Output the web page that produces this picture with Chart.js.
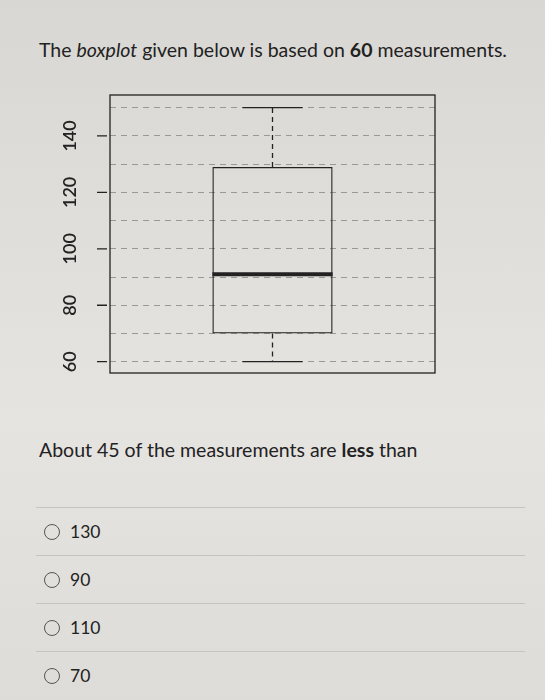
<!DOCTYPE html>
<html>
<head>
<meta charset="utf-8">
<script src="https://cdn.jsdelivr.net/npm/chart.js@4"></script>
<style>
  body { margin:0; width:545px; height:700px; background:linear-gradient(#d9d7d3,#e6e4e1 60%,#dedcd8); font-family:Lato, "Open Sans", sans-serif; color:#222; position:relative; overflow:hidden; }
  .t { position:absolute; left:39px; font-size:19.5px; white-space:nowrap; }
  .chartbox { position:absolute; left:0; top:85px; width:545px; height:300px; }
  .sep { position:absolute; left:36px; right:20px; height:1px; background:#c6c4c0; }
  .opt { position:absolute; left:44px; font-size:17.5px; }
  .opt span { display:inline-block; width:14px; height:14px; border:1.3px solid #555; border-radius:50%; vertical-align:-2px; margin-right:10px; }
</style>
</head>
<body>
<div class="t" style="top:38px">The <i>boxplot</i> given below is based on <b>60</b> measurements.</div>
<div class="chartbox"><canvas id="box"></canvas></div>
<div class="t" style="top:438px">About 45 of the measurements are <b>less</b> than</div>
<div class="sep" style="top:507px"></div>
<div class="opt" style="top:521px"><span></span>130</div>
<div class="sep" style="top:555px"></div>
<div class="opt" style="top:569px"><span></span>90</div>
<div class="sep" style="top:603px"></div>
<div class="opt" style="top:617px"><span></span>110</div>
<div class="sep" style="top:651px"></div>
<div class="opt" style="top:665px"><span></span>70</div>
<script>
var labels = ['x'];
var boxMin = [60];
var boxQ1 = [70];
var boxMedian = [91];
var boxQ3 = [129];
var boxMax = [150];
var gridValues = [60, 70, 80, 90, 100, 110, 120, 130, 140, 150];
var tickLabels = [60, 80, 100, 120, 140];

// whiskers, median, frame and rotated axis labels, all placed through the scales
var boxExtras = {
  id: 'boxExtras',
  afterDatasetsDraw: function(chart) {
    var ctx = chart.ctx, y = chart.scales.y, a = chart.chartArea;
    var bar = chart.getDatasetMeta(0).data[0];
    var cx = bar.x, half = bar.width / 2, cap = half / 2;
    ctx.save();
    ctx.strokeStyle = '#222';
    ctx.lineWidth = 1.3;
    ctx.setLineDash([5, 4]);
    ctx.beginPath();
    ctx.moveTo(cx, y.getPixelForValue(boxQ3[0])); ctx.lineTo(cx, y.getPixelForValue(boxMax[0]));
    ctx.moveTo(cx, y.getPixelForValue(boxQ1[0])); ctx.lineTo(cx, y.getPixelForValue(boxMin[0]));
    ctx.stroke();
    ctx.setLineDash([]);
    ctx.beginPath();
    [boxMax[0], boxMin[0]].forEach(function(v) {
      ctx.moveTo(cx - cap, y.getPixelForValue(v)); ctx.lineTo(cx + cap, y.getPixelForValue(v));
    });
    ctx.stroke();
    ctx.lineWidth = 4;
    ctx.beginPath();
    ctx.moveTo(cx - half, y.getPixelForValue(boxMedian[0])); ctx.lineTo(cx + half, y.getPixelForValue(boxMedian[0]));
    ctx.stroke();
    ctx.lineWidth = 1.3;
    ctx.strokeRect(a.left, a.top, a.right - a.left, a.bottom - a.top);
    ctx.fillStyle = '#222';
    ctx.font = '600 18px Lato, sans-serif';
    ctx.textAlign = 'center';
    ctx.textBaseline = 'middle';
    ctx.beginPath();
    tickLabels.forEach(function(v) {
      var py = y.getPixelForValue(v);
      ctx.moveTo(a.left - 13, py); ctx.lineTo(a.left - 3, py);
      ctx.save();
      ctx.translate(a.left - 40, py);
      ctx.rotate(-Math.PI / 2);
      ctx.fillText(String(v), 0, 0);
      ctx.restore();
    });
    ctx.stroke();
    ctx.restore();
  }
};

new Chart(document.getElementById('box'), {
  type: 'bar',
  data: {
    labels: labels,
    datasets: [{
      data: labels.map(function(l, i) { return [boxQ1[i], boxQ3[i]]; }),
      backgroundColor: 'rgba(0,0,0,0)',
      borderColor: '#222',
      borderWidth: 1.3,
      borderSkipped: false,
      categoryPercentage: 0.37,
      barPercentage: 1
    }]
  },
  options: {
    responsive: true,
    maintainAspectRatio: false,
    animation: false,
    layout: { padding: { left: 110, right: 110, top: 10, bottom: 12 } },
    plugins: { legend: { display: false }, tooltip: { enabled: false } },
    scales: {
      x: { display: false },
      y: {
        min: 56, max: 154.5,
        afterBuildTicks: function(s) { s.ticks = gridValues.map(function(v) { return { value: v }; }); },
        ticks: { display: false },
        border: { display: false, dash: [6, 5] },
        grid: { color: '#9a9894', drawTicks: false, lineWidth: 1 }
      }
    }
  },
  plugins: [boxExtras]
});
</script>
</body>
</html>
